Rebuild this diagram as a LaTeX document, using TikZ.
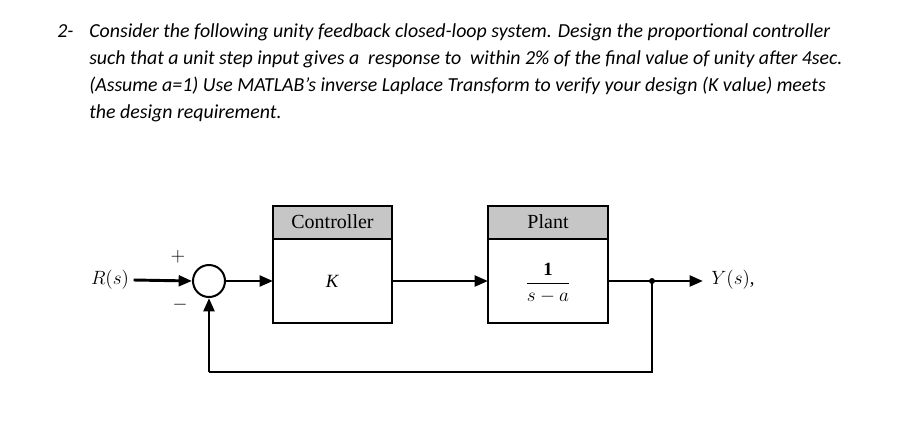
\documentclass[tikz,border=0pt]{standalone}
\usepackage{fontspec}
\setmainfont{Liberation Serif}
\newfontfamily\qfont{Carlito}
\usetikzlibrary{arrows.meta}
\begin{document}
\begin{tikzpicture}[x=0.75pt,y=-0.75pt,
  every node/.style={font=\fontsize{14}{16}\selectfont},
  wire/.style={line width=2.2pt},
  arr/.style={wire,-{Triangle[length=10pt,width=8pt]}},
  hdr/.style={draw,line width=1pt,fill=gray!45},
  body/.style={draw,line width=1pt},
  q/.style={anchor=base west,font=\qfont\itshape\fontsize{14.9}{17}\selectfont,inner sep=0}]
\useasboundingbox (0,0) rectangle (923,422);
\node[q] (n) at (57,37) {2-};
\node[q] (l1) at (89,37) {Consider the following unity feedback closed-loop system. Design the proportional controller};
\node[q] (l2) at (89,64) {such that a unit step input gives a\ \ response to\ \ within 2\% of the final value of unity after 4sec.};
\node[q] (l3) at (89,91) {(Assume a=1) Use MATLAB’s inverse Laplace Transform to verify your design (K value) meets};
\node[q] (l4) at (89,118) {the design requirement.};
% controller
\draw[hdr] (273,206) rectangle (392,239);
\node[font=\fontsize{15}{17}\selectfont] (ch) at (332.5,222) {Controller};
\draw[body] (273,239) rectangle (392,323);
\node (cb) at (332.5,281) {\textit{K}};
% plant
\draw[hdr] (488,206) rectangle (608,239);
\node[font=\fontsize{15}{17}\selectfont] (ph) at (548,222) {Plant};
\draw[body] (488,239) rectangle (608,323);
\node (pb) at (548,283) {$\displaystyle\frac{\mathbf{1}}{s-a}$};
\coordinate (cin) at (273,281);
\coordinate (cout) at (392,281);
\coordinate (pin) at (488,281);
\coordinate (pout) at (608,281);
\node[draw,circle,line width=1.5pt,minimum size=24pt,inner sep=0] (sum) at (209,281) {};
\node (R) at (110,280) {$R(s)$};
\node (Y) at (733,280) {$Y(s)$,};
\node (plus) at (178,257) {$+$};
\node (minus) at (180,305) {$-$};
\coordinate (j) at (652,281);
\coordinate (ye) at (703,281);
\coordinate (fb) at (652,372);
\coordinate (fb2) at (209,372);
\draw[arr] (R.east) -- (sum.west);
\draw[arr] (sum.east) -- (cin);
\draw[arr] (cout) -- (pin);
\draw[arr] (pout) -- (ye);
\fill (j) circle (3);
\draw[wire] (j) -- (fb) -- (fb2);
\draw[arr] (fb2) -- (sum.south);
\end{tikzpicture}
\end{document}
